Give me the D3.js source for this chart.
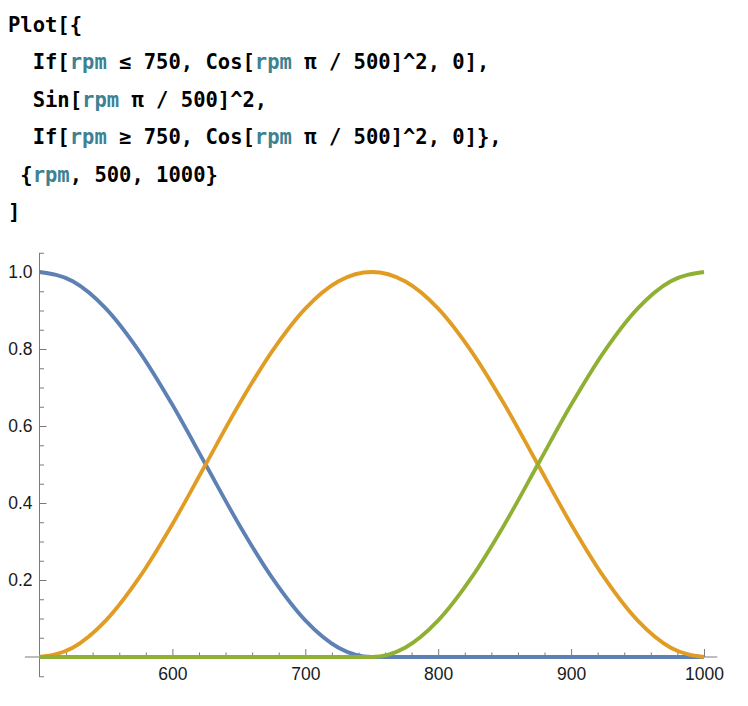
<!DOCTYPE html>
<html>
<head>
<meta charset="utf-8">
<script src="https://cdn.jsdelivr.net/npm/d3@7"></script>
<style>
  body { margin: 0; background: #fff; }
  .code text { font-family: "DejaVu Sans Mono", monospace; font-weight: bold; font-size: 20.5px; white-space: pre; }
  .axis text { font-family: "Liberation Sans", Arial, sans-serif; font-size: 17.5px; fill: #1a1a1a; }
  .axis line { stroke: #7a7a7a; }
</style>
</head>
<body>
<div id="svg-container"></div>
<script>
////////////////////////////////////////////////////////////////////
////////////////////////////  Data  ////////////////////////////////
const rpm = [500, 525, 550, 575, 600, 625, 650, 675, 700, 725, 750,
             775, 800, 825, 850, 875, 900, 925, 950, 975, 1000];
const cosLow = [1.0, 0.976, 0.905, 0.794, 0.655, 0.5, 0.345, 0.206, 0.095, 0.024, 0,
                0, 0, 0, 0, 0, 0, 0, 0, 0, 0];
const sinSq = [0, 0.024, 0.095, 0.206, 0.345, 0.5, 0.655, 0.794, 0.905, 0.976, 1.0,
               0.976, 0.905, 0.794, 0.655, 0.5, 0.345, 0.206, 0.095, 0.024, 0];
const cosHigh = [0, 0, 0, 0, 0, 0, 0, 0, 0, 0, 0,
                 0.024, 0.095, 0.206, 0.345, 0.5, 0.655, 0.794, 0.905, 0.976, 1.0];
const seriesColors = ["#5e81b5", "#e19c24", "#8fb032"];

const xMajor = [600, 700, 800, 900, 1000];
const yMajor = [0.2, 0.4, 0.6, 0.8, 1.0];

// code cell lines: [text, isVariable]
const codeLines = [
  [["Plot[{", 0]],
  [["  If[", 0], ["rpm", 1], [" ≤ 750, Cos[", 0], ["rpm", 1], [" π / 500]^2, 0],", 0]],
  [["  Sin[", 0], ["rpm", 1], [" π / 500]^2,", 0]],
  [["  If[", 0], ["rpm", 1], [" ≥ 750, Cos[", 0], ["rpm", 1], [" π / 500]^2, 0]},", 0]],
  [[" {", 0], ["rpm", 1], [", 500, 1000}", 0]],
  [["]", 0]]
];

////////////////////////////////////////////////////////////////////
////////////////////////////  Init  ////////////////////////////////
const width = 748, height = 706;
const svg = d3.select("#svg-container").append("svg")
  .attr("width", width).attr("height", height);

// code text
const code = svg.append("g").attr("class", "code");
codeLines.forEach((parts, i) => {
  const t = code.append("text")
    .attr("x", 8 - 12.3 * 0)
    .attr("y", 31.5 + i * 37.5)
    .attr("xml:space", "preserve");
  parts.forEach(([s, v]) => {
    t.append("tspan").text(s).attr("fill", v ? "#3d8192" : "#000");
  });
});

// scales
const xScale = d3.scaleLinear().domain([500, 1000]).range([39.5, 704]);
const yScale = d3.scaleLinear().domain([0, 1]).range([657, 272]);

// axis lines (extend past plot range like Mathematica)
svg.append("line")
  .attr("x1", xScale(489)).attr("x2", xScale(1010))
  .attr("y1", yScale(0)).attr("y2", yScale(0))
  .attr("stroke", "#7a7a7a");
svg.append("line")
  .attr("x1", xScale(500)).attr("x2", xScale(500))
  .attr("y1", yScale(1.05)).attr("y2", yScale(-0.052))
  .attr("stroke", "#7a7a7a");

// x axis
const xMinor = d3.range(520, 1001, 20).filter((d) => d % 100 !== 0);
svg.append("g").attr("class", "axis")
  .attr("transform", `translate(0, ${yScale(0)})`)
  .call(d3.axisBottom(xScale).tickValues(xMinor).tickSize(-4.5).tickFormat(""))
  .call((g) => g.select(".domain").remove());
svg.append("g").attr("class", "axis")
  .attr("transform", `translate(0, ${yScale(0)})`)
  .call(d3.axisBottom(xScale).tickValues(xMajor).tickSize(-8).tickPadding(11).tickFormat(d3.format("d")))
  .call((g) => g.select(".domain").remove());

// y axis
const yMinor = d3.range(-1, 22).map((d) => d * 0.05).filter((d, i) => (i - 1) % 4 !== 0);
svg.append("g").attr("class", "axis")
  .attr("transform", `translate(${xScale(500)}, 0)`)
  .call(d3.axisLeft(yScale).tickValues(yMinor).tickSize(-4.5).tickFormat(""))
  .call((g) => g.select(".domain").remove());
svg.append("g").attr("class", "axis")
  .attr("transform", `translate(${xScale(500)}, 0)`)
  .call(d3.axisLeft(yScale).tickValues(yMajor).tickSize(-7).tickPadding(7).tickFormat(d3.format(".1f")))
  .call((g) => g.select(".domain").remove());

// lines
const line = d3.line()
  .curve(d3.curveMonotoneX)
  .x((d) => xScale(d[0]))
  .y((d) => yScale(d[1]));

[cosLow, sinSq, cosHigh].forEach((vals, i) => {
  svg.append("path")
    .datum(rpm.map((r, j) => [r, vals[j]]))
    .attr("d", line)
    .attr("fill", "none")
    .attr("stroke", seriesColors[i])
    .attr("stroke-width", 3.8);
});
</script>
</body>
</html>
